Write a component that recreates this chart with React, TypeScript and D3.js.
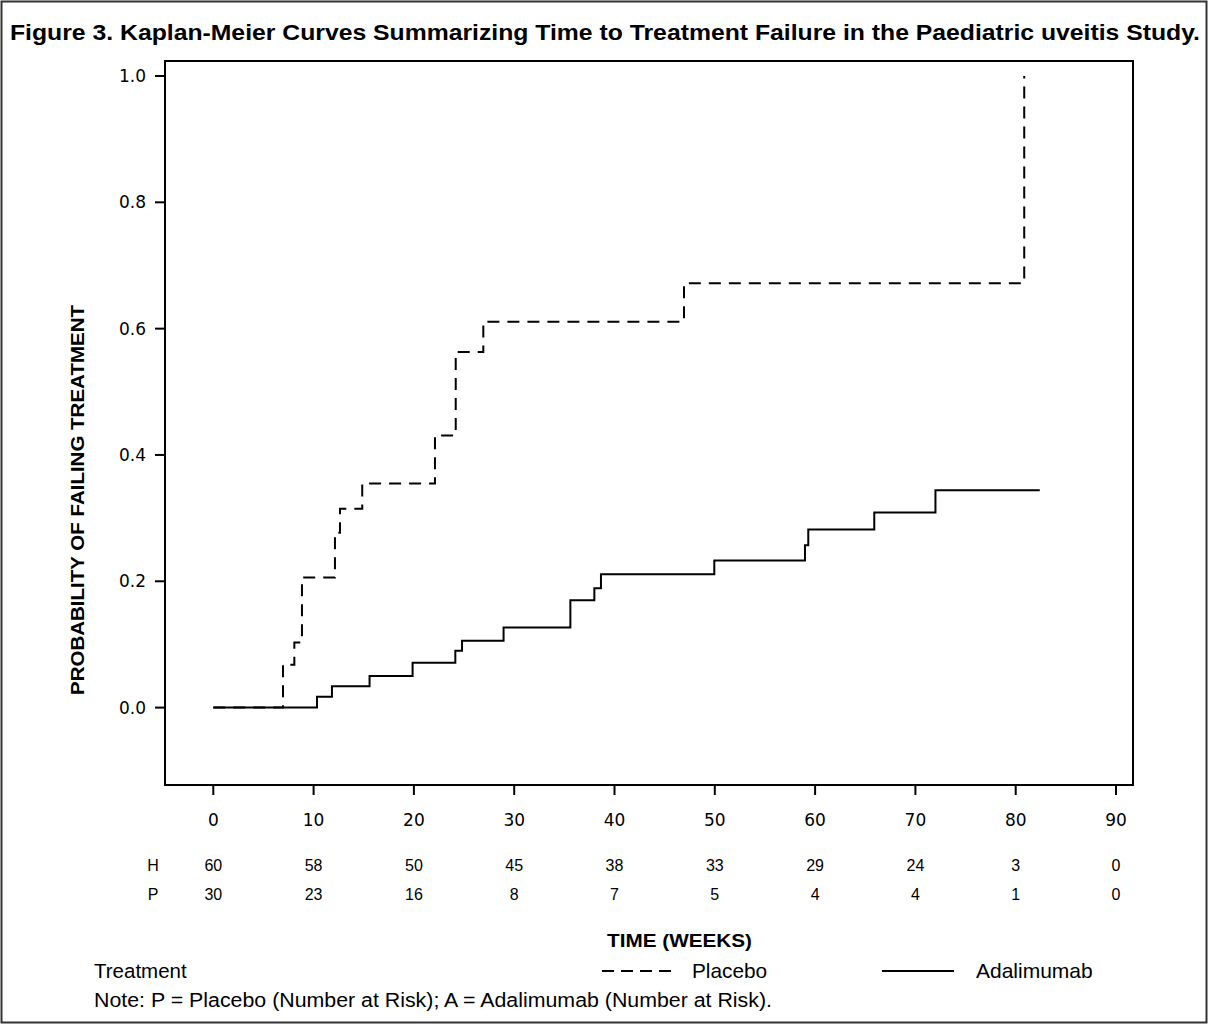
import * as d3 from 'd3';

const title = 'Figure 3. Kaplan-Meier Curves Summarizing Time to Treatment Failure in the Paediatric uveitis Study.';

// Kaplan-Meier step points: [week, probability of failing]
const placeboSteps: [number, number][] = [
  [0, 0],
  [6.95, 0.068],
  [8.08, 0.103],
  [8.84, 0.206],
  [12.13, 0.277],
  [12.63, 0.315],
  [14.85, 0.355],
  [22.1, 0.431],
  [24.17, 0.563],
  [26.92, 0.611],
  [46.93, 0.672],
  [80.85, 1.0],
];

const adalimumabSteps: [number, number][] = [
  [0, 0],
  [10.34, 0.017],
  [11.83, 0.034],
  [15.58, 0.05],
  [19.87, 0.071],
  [24.13, 0.09],
  [24.8, 0.106],
  [28.94, 0.127],
  [35.6, 0.17],
  [37.99, 0.189],
  [38.65, 0.211],
  [49.95, 0.233],
  [58.99, 0.257],
  [59.32, 0.282],
  [65.9, 0.309],
  [72.0, 0.344],
  [82.4, 0.344],
];

const xTicks = [0, 10, 20, 30, 40, 50, 60, 70, 80, 90];
const yTicks = [0, 0.2, 0.4, 0.6, 0.8, 1.0];
const atRiskH = [60, 58, 50, 45, 38, 33, 29, 24, 3, 0];
const atRiskP = [30, 23, 16, 8, 7, 5, 4, 4, 1, 0];

const W = 1208;
const H = 1025;
const box = { left: 165, right: 1133, top: 61, bottom: 785 };

export default function App() {
  const x = d3.scaleLinear().domain([0, 90]).range([213.3, 1116]);
  const y = d3.scaleLinear().domain([0, 1]).range([707.6, 76]);

  const line = d3
    .line<[number, number]>()
    .x((d) => x(d[0]))
    .y((d) => y(d[1]))
    .curve(d3.curveStepAfter);

  const sans = "'Liberation Sans', Arial, Helvetica, sans-serif";
  const wide = "'DejaVu Sans', sans-serif";
  const narrow = "'Liberation Sans Narrow', 'Liberation Sans', Arial, sans-serif";

  return (
    <svg
      width={W}
      height={H}
      viewBox={`0 0 ${W} ${H}`}
      style={{ position: 'absolute', left: 0, top: 0, background: '#fff' }}
    >
      <rect x={1.5} y={1.5} width={1205} height={1021} fill="#fff" stroke="#333" strokeWidth={2} />

      <text
        x={10}
        y={40}
        fontFamily={narrow}
        fontWeight="bold"
        fontSize={22}
        textLength={1190}
        lengthAdjust="spacingAndGlyphs"
        fill="#000"
      >
        {title}
      </text>

      <rect
        x={box.left}
        y={box.top}
        width={box.right - box.left}
        height={box.bottom - box.top}
        fill="none"
        stroke="#000"
        strokeWidth={2}
      />

      {yTicks.map((t) => (
        <g key={`y${t}`}>
          <line x1={box.left - 10} x2={box.left} y1={y(t)} y2={y(t)} stroke="#000" strokeWidth={2} />
          <text
            x={146}
            y={y(t) + 6}
            textAnchor="end"
            fontFamily={wide}
            fontSize={17}
            fill="#000"
          >
            {t.toFixed(1)}
          </text>
        </g>
      ))}

      {xTicks.map((t, i) => (
        <g key={`x${t}`}>
          <line x1={x(t)} x2={x(t)} y1={box.bottom} y2={box.bottom + 10} stroke="#000" strokeWidth={2} />
          <text x={x(t)} y={826} textAnchor="middle" fontFamily={wide} fontSize={17} fill="#000">
            {t}
          </text>
          <text x={x(t)} y={871} textAnchor="middle" fontFamily={sans} fontSize={16} fill="#000">
            {atRiskH[i]}
          </text>
          <text x={x(t)} y={900} textAnchor="middle" fontFamily={sans} fontSize={16} fill="#000">
            {atRiskP[i]}
          </text>
        </g>
      ))}

      <text x={153} y={871} textAnchor="middle" fontFamily={sans} fontSize={16} fill="#000">
        H
      </text>
      <text x={153} y={900} textAnchor="middle" fontFamily={sans} fontSize={16} fill="#000">
        P
      </text>

      <path
        d={line(adalimumabSteps) ?? ''}
        fill="none"
        stroke="#000"
        strokeWidth={2}
      />
      <path
        d={line(placeboSteps) ?? ''}
        fill="none"
        stroke="#000"
        strokeWidth={2}
        strokeDasharray="12 8"
      />

      <text
        transform={`translate(84,500) rotate(-90)`}
        textAnchor="middle"
        fontFamily={narrow}
        fontWeight="bold"
        fontSize={19}
        textLength={390}
        lengthAdjust="spacingAndGlyphs"
        fill="#000"
      >
        PROBABILITY OF FAILING TREATMENT
      </text>

      <text
        x={607}
        y={947}
        fontFamily={narrow}
        fontWeight="bold"
        fontSize={19}
        textLength={145}
        lengthAdjust="spacingAndGlyphs"
        fill="#000"
      >
        TIME (WEEKS)
      </text>

      <text x={94} y={978} fontFamily={sans} fontSize={20.5} fill="#000">
        Treatment
      </text>
      <line x1={602} x2={672} y1={971} y2={971} stroke="#000" strokeWidth={2} strokeDasharray="12 7" />
      <text x={692} y={978} fontFamily={sans} fontSize={20.8} fill="#000">
        Placebo
      </text>
      <line x1={882} x2={954} y1={971} y2={971} stroke="#000" strokeWidth={2} />
      <text x={976} y={978} fontFamily={sans} fontSize={21} fill="#000">
        Adalimumab
      </text>

      <text
        x={94}
        y={1007}
        fontFamily={sans}
        fontSize={20}
        textLength={678}
        lengthAdjust="spacingAndGlyphs"
        fill="#000"
      >
        Note: P = Placebo (Number at Risk); A = Adalimumab (Number at Risk).
      </text>
    </svg>
  );
}
